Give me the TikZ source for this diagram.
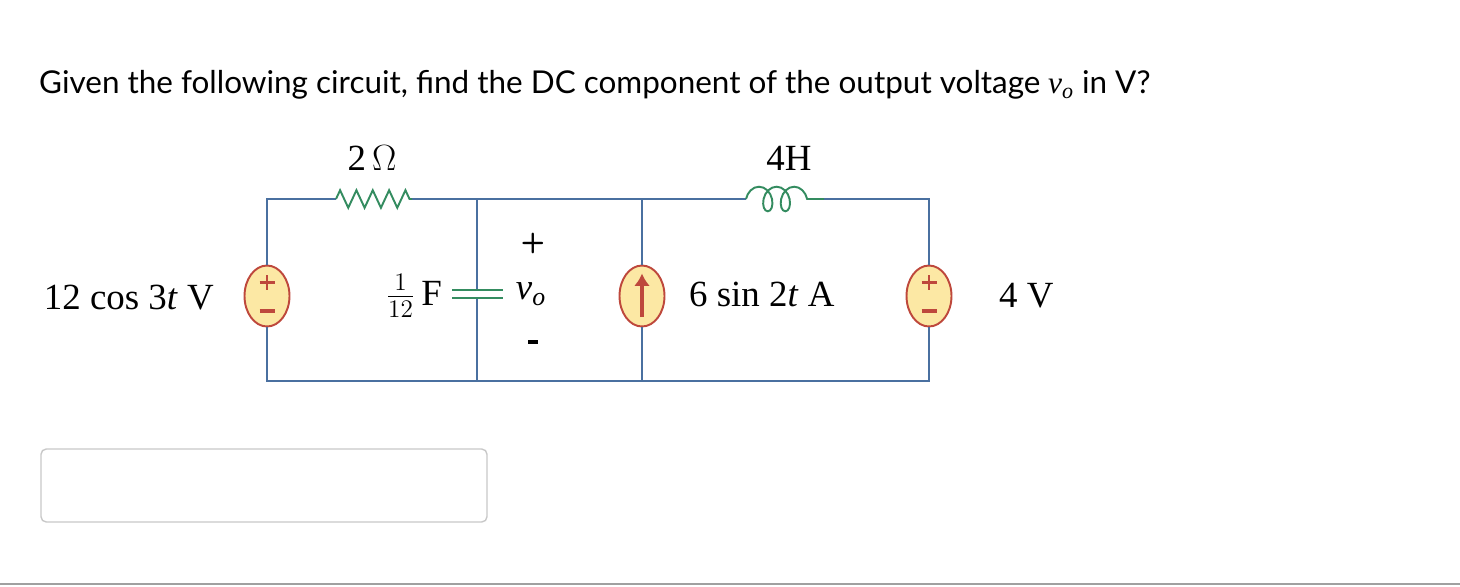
\documentclass[tikz,border=0pt]{standalone}
\usepackage{fontspec}
\setmainfont{Lato}
\newfontfamily\circfont{Liberation Serif}
\usetikzlibrary{arrows.meta,decorations.pathmorphing,shapes.geometric}
\definecolor{wireblue}{RGB}{74,112,160}
\definecolor{partgreen}{RGB}{52,140,96}
\definecolor{srcfill}{RGB}{252,232,164}
\definecolor{srcedge}{RGB}{190,72,60}
\definecolor{boxgray}{RGB}{200,200,200}
\tikzset{
  wire/.style={wireblue, line width=1.3pt},
  part/.style={partgreen, line width=1.1pt},
  source/.style={ellipse, draw=srcedge, fill=srcfill, line width=1.1pt, minimum width=0.9cm, minimum height=1.22cm, inner sep=0pt},
  lbl/.style={font=\circfont\fontsize{21}{24}\selectfont},
  sign/.style={srcedge, line width=1.6pt}
}
\begin{document}
\begin{tikzpicture}[x=0.02cm, y=-0.02cm]
\useasboundingbox (0,0) rectangle (1460,586);
\node[anchor=west, font=\fontsize{17.9}{22}\selectfont] (question) at (33,85) {Given the following circuit, find the DC component of the output voltage {\circfont\itshape v\textsubscript{o}} in V?};
% corners of the circuit
\coordinate (tl) at (267,199);
\coordinate (tm) at (477,199);
\coordinate (tc) at (642,199);
\coordinate (tr) at (929,199);
\coordinate (bl) at (267,381);
\coordinate (bm) at (477,381);
\coordinate (bc) at (642,381);
\coordinate (br) at (929,381);
\coordinate (ra) at (336,199);
\coordinate (rb) at (412,199);
\coordinate (la) at (746,199);
\coordinate (lb) at (824,199);
\coordinate (ca) at (477,290);
\coordinate (cb) at (477,298);
% sources
\node[source] (vs1) at (267,296) {};
\node[source] (is1) at (642,296) {};
\node[source] (vs2) at (929,296) {};
\foreach \s in {vs1,vs2}{
  \draw[sign] ([yshift=0.42cm]\s.center) -- ++(0,-0.3cm) ([xshift=-0.15cm,yshift=0.27cm]\s.center) -- ++(0.3cm,0);
  \draw[sign, line width=2.8pt] ([xshift=-0.15cm,yshift=-0.3cm]\s.center) -- ++(0.3cm,0);
}
\draw[srcedge, line width=2.2pt, -{Latex[length=7pt,width=9pt]}] ([yshift=-0.42cm]is1.center) -- ([yshift=0.45cm]is1.center);
% wires
\draw[wire] (vs1.north) -- (tl) -- (ra) (rb) -- (la) (lb) -- (tr) -- (vs2.north);
\draw[wire] (vs1.south) -- (bl) -- (br) -- (vs2.south);
\draw[wire] (tm) -- (ca) (cb) -- (bm);
\draw[wire] (tc) -- (is1.north) (is1.south) -- (bc);
% parts
\draw[part, decorate, decoration={zigzag, segment length=9.3pt, amplitude=5pt}] (ra) -- (rb);
\draw[part, decorate, decoration={coil, aspect=0.7, segment length=10pt, amplitude=7pt}] (la) -- (lb);
\draw[part] (452,290) -- (503,290) (452,298) -- (503,298);
% labels
\node[lbl] (rlbl) at (372,158) {2\,$\Omega$};
\node[lbl] (llbl) at (789,158) {4H};
\node[lbl, anchor=east] (v1lbl) at (220,298) {12 cos 3\textit{t} V};
\node[lbl, anchor=east] (clbl) at (448,296) {$\frac{1}{12}$\,F};
\node[lbl, anchor=west] (ilbl) at (683,294) {6 sin 2\textit{t} A};
\node[lbl, anchor=west] (v2lbl) at (993,296) {4 V};
\node[font=\sffamily\bfseries\fontsize{16}{18}\selectfont] (plus) at (533,243) {+};
\node[lbl] (vo) at (531,294) {\textit{v\textsubscript{o}}};
\draw[black, line width=2pt] (528,342) -- (538,342);
% answer box
\draw[boxgray, line width=0.8pt, rounded corners=3pt] (41,449) rectangle (487,522);
\draw[boxgray!80!black, line width=0.8pt] (0,584) -- (1460,584);
\end{tikzpicture}
\end{document}
